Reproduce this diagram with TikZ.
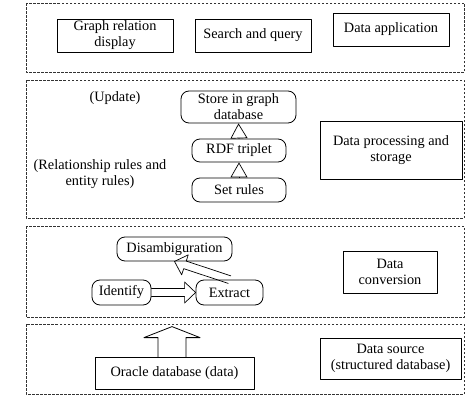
\documentclass[tikz,border=0pt]{standalone}
\usepackage{fontspec}
\setmainfont{Liberation Serif}
\usetikzlibrary{arrows.meta,calc}
% hollow block arrow from #1 to #2
\newcommand\hollowarrow[2]{%
  \coordinate (hb) at ($(#2)!11pt!(#1)$);
  \draw[line width=0.7pt] ($(#1)!4pt!90:(#2)$) -- ($(hb)!4pt!90:(#2)$)
    -- ($(hb)!10.5pt!90:(#2)$) -- (#2) -- ($(hb)!10.5pt!-90:(#2)$)
    -- ($(hb)!4pt!-90:(#2)$) -- ($(#1)!4pt!-90:(#2)$);}
\begin{document}
\begin{tikzpicture}[x=1pt,y=-1pt,line cap=round,line join=round,
  font=\fontsize{14.3}{16}\selectfont,
  layer/.style={line cap=butt,dash pattern=on 2.5pt off 1.5pt,line width=0.7pt,draw=black!80},
  plainbox/.style={draw,line width=0.8pt,inner sep=0pt,align=center},
  roundbox/.style={plainbox,rounded corners=8pt},
  upward/.style={line width=0.7pt,-{Triangle[open,length=15pt,width=17pt]}}]
  \useasboundingbox (0,0) rectangle (474,415);
  % layers
  \draw[layer] (26,3) rectangle (464,72);
  \draw[layer] (26,80) rectangle (464,218);
  \draw[layer] (26,226) rectangle (464,317);
  \draw[layer] (26,324) rectangle (464,394);
  % data application
  \node[plainbox,minimum width=116pt,minimum height=33pt] (gdisp) at (115,35.5) {Graph relation\\display};
  \node[plainbox,minimum width=116pt,minimum height=33pt] (search) at (253,35.5) {Search and query};
  \node[plainbox,minimum width=116pt,minimum height=33pt] (dapp) at (391,29.5) {Data application};
  % data processing and storage
  \node[roundbox,minimum width=115pt,minimum height=32pt] (store) at (238.5,107) {Store in graph\\database};
  \node[roundbox,minimum width=94pt,minimum height=23pt] (rdf) at (239,150.5) {RDF triplet};
  \node[roundbox,minimum width=94pt,minimum height=24pt] (setr) at (239,190) {Set rules};
  \node[align=center,inner sep=0pt] (update) at (115,98) {(Update)};
  \node[align=center,inner sep=0pt] (rules) at (100,174) {(Relationship rules and\\entity rules)};
  \node[plainbox,minimum width=142pt,minimum height=58pt] (dproc) at (391,150) {Data processing and\\storage};
  \draw[upward] (rdf.north) -- (store.south);
  \draw[upward] (setr.north) -- (rdf.south);
  % data conversion
  \node[roundbox,minimum width=115pt,minimum height=24pt] (disamb) at (174.5,249) {Disambiguration};
  \node[roundbox,minimum width=59pt,minimum height=25pt] (ident) at (121.5,292.5) {Identify};
  \node[roundbox,minimum width=67pt,minimum height=25pt] (extr) at (229.5,292.5) {Extract};
  \node[plainbox,minimum width=94pt,minimum height=42pt] (dconv) at (390,272) {Data\\conversion};
  \hollowarrow{ident.east}{extr.west}
  \hollowarrow{extr.north}{disamb.south}
  % data source
  \node[plainbox,minimum width=159pt,minimum height=32pt] (oracle) at (174.5,373) {Oracle database (data)};
  \node[plainbox,minimum width=141pt,minimum height=41pt] (dsrc) at (390.5,358.5) {Data source\\(structured database)};
  \draw[line width=0.8pt] (oracle.north) ++(-16.5,0) -- ++(0,-19) -- ++(-14,0)
    -- ++(28,-11) -- ++(28,11) -- ++(-14,0) -- ++(0,19);
\end{tikzpicture}
\end{document}
